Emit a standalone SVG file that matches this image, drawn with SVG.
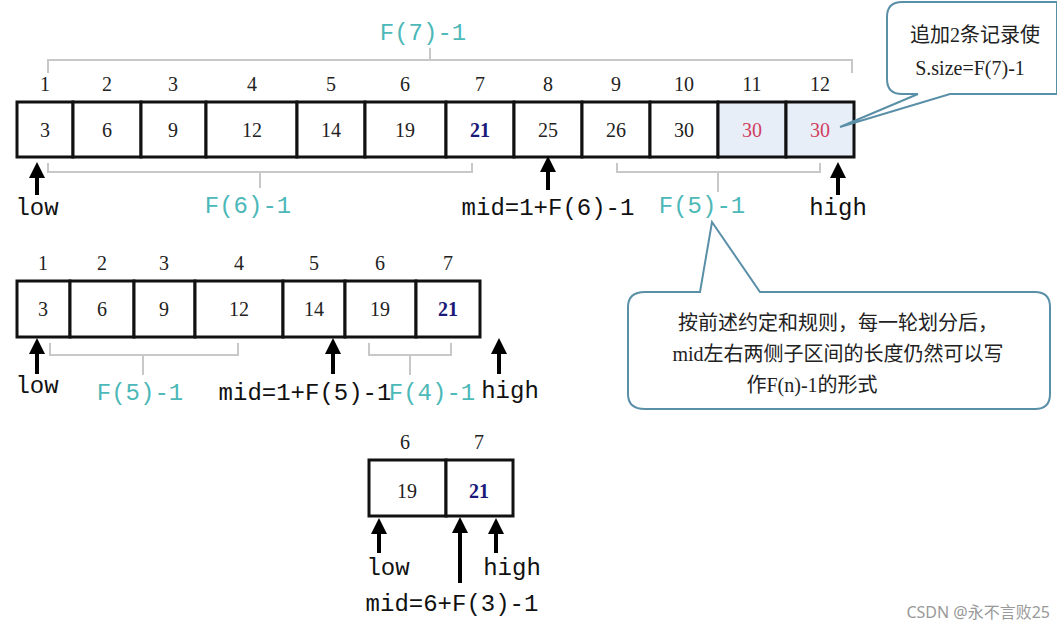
<svg xmlns="http://www.w3.org/2000/svg" width="1057" height="631" viewBox="0 0 1057 631">
<style>
.c{fill:#fff;stroke:#111;stroke-width:3}
.s{fill:#e8eef8;stroke:#111;stroke-width:3}
.v{font-family:"Liberation Serif",serif;font-size:20px;fill:#222;text-anchor:middle}
.b{font-weight:bold;fill:#1a1a7a}
.p{fill:#d04060}
.i{font-family:"Liberation Serif",serif;font-size:20px;fill:#222;text-anchor:middle}
.f{font-family:"Liberation Mono",monospace;font-size:24px;fill:#4cb8b8;text-anchor:middle}
.m{font-family:"Liberation Mono",monospace;font-size:24px;fill:#111;text-anchor:middle}
.br{fill:none;stroke:#c8c8c8;stroke-width:2}
.ar{stroke:#000;stroke-width:4;marker-end:url(#ah)}
.co{fill:#fff;stroke:#5a8fa8;stroke-width:2}
.ct{font-family:"Liberation Serif","Noto Sans CJK SC",serif;font-size:20px;fill:#222;text-anchor:middle}
</style>
<defs><marker id="ah" markerWidth="4" markerHeight="4" refX="2" refY="2" orient="auto"><path d="M0,0 L4,2 L0,4 z" fill="#000"/></marker></defs>
<rect width="1057" height="631" fill="#fff"/>
<g id="row1">
<rect class="c" x="17" y="102" width="56" height="55"/><rect class="c" x="73" y="102" width="68" height="55"/><rect class="c" x="141" y="102" width="65" height="55"/><rect class="c" x="206" y="102" width="91" height="55"/><rect class="c" x="297" y="102" width="68" height="55"/><rect class="c" x="365" y="102" width="81" height="55"/><rect class="c" x="446" y="102" width="68" height="55"/><rect class="c" x="514" y="102" width="68" height="55"/><rect class="c" x="582" y="102" width="68" height="55"/><rect class="c" x="650" y="102" width="68" height="55"/><rect class="s" x="718" y="102" width="68" height="55"/><rect class="s" x="786" y="102" width="68" height="55"/>
<text class="v" x="45" y="137">3</text><text class="v" x="107" y="137">6</text><text class="v" x="173" y="137">9</text><text class="v" x="252" y="137">12</text><text class="v" x="331" y="137">14</text><text class="v" x="405" y="137">19</text><text class="v b" x="480" y="137">21</text><text class="v" x="548" y="137">25</text><text class="v" x="616" y="137">26</text><text class="v" x="684" y="137">30</text><text class="v p" x="752" y="137">30</text><text class="v p" x="820" y="137">30</text>
<text class="i" x="45" y="91">1</text><text class="i" x="107" y="91">2</text><text class="i" x="173" y="91">3</text><text class="i" x="252" y="91">4</text><text class="i" x="331" y="91">5</text><text class="i" x="405" y="91">6</text><text class="i" x="480" y="91">7</text><text class="i" x="548" y="91">8</text><text class="i" x="616" y="91">9</text><text class="i" x="684" y="91">10</text><text class="i" x="752" y="91">11</text><text class="i" x="820" y="91">12</text>
</g>
<g id="row2">
<rect class="c" x="17" y="281" width="53" height="56"/><rect class="c" x="70" y="281" width="64" height="56"/><rect class="c" x="134" y="281" width="61" height="56"/><rect class="c" x="195" y="281" width="88" height="56"/><rect class="c" x="283" y="281" width="62" height="56"/><rect class="c" x="345" y="281" width="71" height="56"/><rect class="c" x="416" y="281" width="64" height="56"/>
<text class="v" x="43" y="316">3</text><text class="v" x="102" y="316">6</text><text class="v" x="164" y="316">9</text><text class="v" x="239" y="316">12</text><text class="v" x="314" y="316">14</text><text class="v" x="380" y="316">19</text><text class="v b" x="448" y="316">21</text>
<text class="i" x="43" y="270">1</text><text class="i" x="102" y="270">2</text><text class="i" x="164" y="270">3</text><text class="i" x="239" y="270">4</text><text class="i" x="314" y="270">5</text><text class="i" x="380" y="270">6</text><text class="i" x="448" y="270">7</text>
</g>
<g id="row3">
<rect class="c" x="369" y="460" width="77" height="56"/><rect class="c" x="446" y="460" width="67" height="56"/>
<text class="v" x="407" y="498">19</text><text class="v b" x="479" y="498">21</text>
<text class="i" x="405" y="449">6</text><text class="i" x="479" y="449">7</text>
</g>
<g id="connectors">
<path class="br" d="M48,73 V60 H852 V73 M430,60 V48"/>
<path class="br" d="M48,163 V172 H472 V163 M260,172 V188"/>
<path class="br" d="M617,163 V172 H820 V163 M718,172 V192"/>
<path class="br" d="M50,343 V355 H238 V343 M143,355 V375"/>
<path class="br" d="M369,343 V355 H451 V343 M410,355 V375"/>
<line class="ar" x1="37" y1="195" x2="37" y2="170"/>
<line class="ar" x1="548" y1="190" x2="548" y2="164"/>
<line class="ar" x1="838" y1="195" x2="838" y2="170"/>
<line class="ar" x1="37" y1="374" x2="37" y2="346"/>
<line class="ar" x1="333" y1="374" x2="333" y2="346"/>
<line class="ar" x1="499" y1="374" x2="499" y2="346"/>
<line class="ar" x1="379" y1="553" x2="379" y2="526"/>
<line class="ar" x1="460" y1="583" x2="460" y2="525"/>
<line class="ar" x1="496" y1="553" x2="496" y2="526"/>
</g>
<g id="labels">
<text class="f" x="423" y="40">F(7)-1</text>
<text class="f" x="248" y="213">F(6)-1</text>
<text class="f" x="702" y="213">F(5)-1</text>
<text class="f" x="140" y="400">F(5)-1</text>
<text class="f" x="432" y="400">F(4)-1</text>
<text class="m" x="37" y="215">low</text>
<text class="m" x="548" y="215">mid=1+F(6)-1</text>
<text class="m" x="838" y="215">high</text>
<text class="m" x="37" y="393">low</text>
<text class="m" x="305" y="400">mid=1+F(5)-1</text>
<text class="m" x="510" y="398">high</text>
<text class="m" x="388" y="575">low</text>
<text class="m" x="512" y="575">high</text>
<text class="m" x="452" y="611">mid=6+F(3)-1</text>
</g>
<g id="callout1">
<path class="co" d="M902,2 H1057 V94 H950 L840,127 L918,94 H902 Q887,94 887,79 V17 Q887,2 902,2 Z"/>
<text class="ct" x="975" y="42">追加2条记录使</text>
<text class="ct" x="970" y="75">S.size=F(7)-1</text>
</g>
<g id="callout2">
<path class="co" d="M645,292 H700 L712,222 L760,292 H1035 Q1050,292 1050,307 V394 Q1050,409 1035,409 H645 Q628,409 628,394 V307 Q628,292 645,292 Z"/>
<text class="ct" x="838" y="330">按前述约定和规则，每一轮划分后，</text>
<text class="ct" x="838" y="361">mid左右两侧子区间的长度仍然可以写</text>
<text class="ct" x="812" y="392">作F(n)-1的形式</text>
</g>
<text x="1050" y="618" font-family="'Noto Sans','Noto Sans CJK SC',sans-serif" font-size="16" fill="#999" text-anchor="end">CSDN @永不言败25</text>
</svg>
